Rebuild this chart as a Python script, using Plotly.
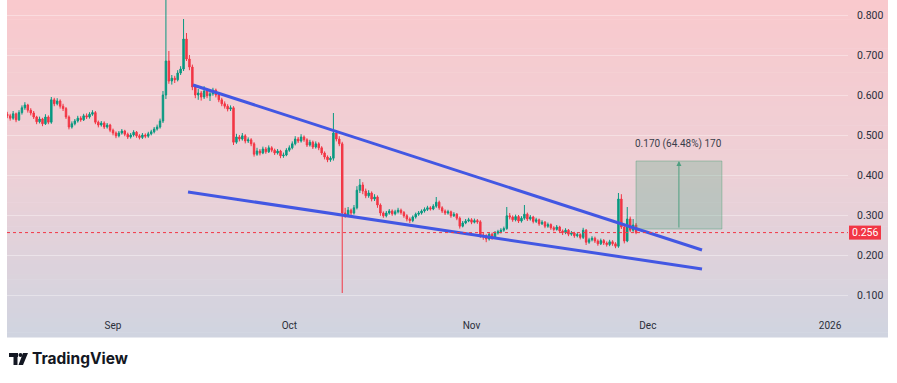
import plotly.graph_objects as go
import pandas as pd

# ---------------- data ----------------
start_time = "2025-08-14 00:00"
n_candles = 215
opens = [0.552, 0.548, 0.542, 0.553, 0.538, 0.556, 0.568, 0.575, 0.562, 0.555,
         0.545, 0.533, 0.540, 0.528, 0.545, 0.532, 0.588, 0.578, 0.585, 0.572,
         0.566, 0.545, 0.520, 0.528, 0.535, 0.542, 0.538, 0.548, 0.545, 0.552,
         0.556, 0.532, 0.525, 0.530, 0.520, 0.525, 0.512, 0.505, 0.498, 0.505,
         0.510, 0.502, 0.495, 0.500, 0.507, 0.498, 0.494, 0.500, 0.497, 0.503,
         0.508, 0.515, 0.520, 0.535, 0.600, 0.685, 0.635, 0.642, 0.638, 0.655,
         0.665, 0.740, 0.690, 0.670, 0.620, 0.600, 0.605, 0.595, 0.610, 0.598,
         0.603, 0.612, 0.600, 0.588, 0.578, 0.572, 0.565, 0.568, 0.482, 0.495,
         0.490, 0.498, 0.485, 0.488, 0.478, 0.452, 0.460, 0.455, 0.465, 0.458,
         0.468, 0.462, 0.455, 0.460, 0.448, 0.450, 0.462, 0.468, 0.478, 0.490,
         0.485, 0.495, 0.488, 0.475, 0.482, 0.470, 0.478, 0.468, 0.455, 0.445,
         0.438, 0.442, 0.505, 0.490, 0.478, 0.305, 0.300, 0.312, 0.305, 0.318,
         0.362, 0.375, 0.360, 0.348, 0.355, 0.340, 0.345, 0.325, 0.305, 0.298,
         0.305, 0.310, 0.303, 0.308, 0.312, 0.306, 0.298, 0.290, 0.286, 0.295,
         0.302, 0.305, 0.310, 0.314, 0.318, 0.315, 0.322, 0.332, 0.318, 0.310,
         0.305, 0.308, 0.298, 0.302, 0.292, 0.272, 0.280, 0.285, 0.288, 0.282,
         0.286, 0.283, 0.250, 0.248, 0.240, 0.252, 0.245, 0.255, 0.258, 0.262,
         0.266, 0.298, 0.295, 0.288, 0.296, 0.285, 0.292, 0.302, 0.290, 0.295,
         0.284, 0.288, 0.278, 0.282, 0.272, 0.276, 0.268, 0.264, 0.270, 0.260,
         0.256, 0.262, 0.252, 0.255, 0.248, 0.251, 0.244, 0.262, 0.232, 0.238,
         0.242, 0.235, 0.228, 0.236, 0.230, 0.226, 0.233, 0.228, 0.222, 0.340,
         0.270, 0.235, 0.290, 0.262, 0.275]
closes = [0.548, 0.542, 0.553, 0.538, 0.556, 0.568, 0.575, 0.562, 0.555, 0.545,
          0.533, 0.540, 0.528, 0.545, 0.532, 0.588, 0.578, 0.585, 0.572, 0.566,
          0.545, 0.520, 0.528, 0.535, 0.542, 0.538, 0.548, 0.545, 0.552, 0.556,
          0.532, 0.525, 0.530, 0.520, 0.525, 0.512, 0.505, 0.498, 0.505, 0.510,
          0.502, 0.495, 0.500, 0.507, 0.498, 0.494, 0.500, 0.497, 0.503, 0.508,
          0.515, 0.520, 0.535, 0.600, 0.685, 0.635, 0.642, 0.638, 0.655, 0.665,
          0.740, 0.690, 0.670, 0.620, 0.600, 0.605, 0.595, 0.610, 0.598, 0.603,
          0.612, 0.600, 0.588, 0.578, 0.572, 0.565, 0.568, 0.482, 0.495, 0.490,
          0.498, 0.485, 0.488, 0.478, 0.452, 0.460, 0.455, 0.465, 0.458, 0.468,
          0.462, 0.455, 0.460, 0.448, 0.450, 0.462, 0.468, 0.478, 0.490, 0.485,
          0.495, 0.488, 0.475, 0.482, 0.470, 0.478, 0.468, 0.455, 0.445, 0.438,
          0.442, 0.505, 0.490, 0.478, 0.305, 0.300, 0.312, 0.305, 0.318, 0.362,
          0.375, 0.360, 0.348, 0.355, 0.340, 0.345, 0.325, 0.305, 0.298, 0.305,
          0.310, 0.303, 0.308, 0.312, 0.306, 0.298, 0.290, 0.286, 0.295, 0.302,
          0.305, 0.310, 0.314, 0.318, 0.315, 0.322, 0.332, 0.318, 0.310, 0.305,
          0.308, 0.298, 0.302, 0.292, 0.272, 0.280, 0.285, 0.288, 0.282, 0.286,
          0.283, 0.250, 0.248, 0.240, 0.252, 0.245, 0.255, 0.258, 0.262, 0.266,
          0.298, 0.295, 0.288, 0.296, 0.285, 0.292, 0.302, 0.290, 0.295, 0.284,
          0.288, 0.278, 0.282, 0.272, 0.276, 0.268, 0.264, 0.270, 0.260, 0.256,
          0.262, 0.252, 0.255, 0.248, 0.251, 0.244, 0.262, 0.232, 0.238, 0.242,
          0.235, 0.228, 0.236, 0.230, 0.226, 0.233, 0.228, 0.222, 0.340, 0.270,
          0.235, 0.290, 0.262, 0.275, 0.256]
highs = [0.558, 0.553, 0.560, 0.556, 0.562, 0.574, 0.582, 0.578, 0.567, 0.560,
         0.548, 0.546, 0.543, 0.552, 0.549, 0.595, 0.593, 0.592, 0.589, 0.578,
         0.570, 0.549, 0.534, 0.540, 0.548, 0.547, 0.553, 0.554, 0.557, 0.562,
         0.560, 0.536, 0.535, 0.534, 0.530, 0.528, 0.516, 0.509, 0.510, 0.515,
         0.513, 0.506, 0.505, 0.512, 0.510, 0.502, 0.505, 0.504, 0.508, 0.513,
         0.520, 0.526, 0.541, 0.610, 0.860, 0.710, 0.650, 0.648, 0.662, 0.672,
         0.790, 0.755, 0.700, 0.676, 0.626, 0.615, 0.610, 0.622, 0.616, 0.610,
         0.618, 0.616, 0.604, 0.593, 0.584, 0.577, 0.574, 0.572, 0.503, 0.500,
         0.505, 0.502, 0.494, 0.492, 0.482, 0.468, 0.465, 0.471, 0.470, 0.474,
         0.472, 0.466, 0.465, 0.463, 0.456, 0.467, 0.474, 0.484, 0.497, 0.495,
         0.502, 0.499, 0.492, 0.488, 0.486, 0.484, 0.482, 0.472, 0.459, 0.449,
         0.447, 0.555, 0.512, 0.497, 0.483, 0.318, 0.320, 0.316, 0.325, 0.372,
         0.390, 0.382, 0.366, 0.362, 0.359, 0.352, 0.349, 0.329, 0.309, 0.310,
         0.315, 0.314, 0.313, 0.318, 0.316, 0.310, 0.302, 0.294, 0.299, 0.306,
         0.310, 0.314, 0.319, 0.323, 0.322, 0.327, 0.345, 0.336, 0.322, 0.314,
         0.313, 0.311, 0.307, 0.305, 0.296, 0.285, 0.290, 0.293, 0.292, 0.291,
         0.290, 0.287, 0.256, 0.252, 0.257, 0.256, 0.260, 0.263, 0.267, 0.271,
         0.320, 0.305, 0.299, 0.301, 0.300, 0.297, 0.325, 0.306, 0.300, 0.298,
         0.293, 0.291, 0.287, 0.285, 0.281, 0.279, 0.272, 0.275, 0.273, 0.264,
         0.267, 0.265, 0.260, 0.258, 0.256, 0.254, 0.268, 0.265, 0.243, 0.247,
         0.246, 0.239, 0.241, 0.240, 0.234, 0.238, 0.237, 0.232, 0.355, 0.352,
         0.276, 0.320, 0.296, 0.290, 0.280]
lows = [0.542, 0.536, 0.538, 0.532, 0.535, 0.551, 0.563, 0.556, 0.549, 0.540,
        0.527, 0.529, 0.522, 0.525, 0.527, 0.528, 0.572, 0.574, 0.566, 0.560,
        0.540, 0.514, 0.516, 0.524, 0.531, 0.533, 0.535, 0.540, 0.541, 0.548,
        0.527, 0.519, 0.521, 0.515, 0.516, 0.507, 0.499, 0.492, 0.494, 0.501,
        0.497, 0.490, 0.491, 0.496, 0.493, 0.489, 0.490, 0.492, 0.493, 0.499,
        0.504, 0.511, 0.516, 0.530, 0.590, 0.628, 0.626, 0.630, 0.634, 0.650,
        0.660, 0.685, 0.662, 0.612, 0.592, 0.588, 0.586, 0.590, 0.592, 0.585,
        0.598, 0.594, 0.582, 0.572, 0.566, 0.559, 0.560, 0.475, 0.478, 0.484,
        0.486, 0.479, 0.480, 0.472, 0.446, 0.448, 0.449, 0.452, 0.453, 0.455,
        0.457, 0.450, 0.451, 0.442, 0.443, 0.447, 0.458, 0.464, 0.474, 0.480,
        0.481, 0.483, 0.470, 0.471, 0.465, 0.466, 0.462, 0.450, 0.439, 0.432,
        0.433, 0.436, 0.484, 0.472, 0.105, 0.293, 0.296, 0.298, 0.301, 0.314,
        0.355, 0.352, 0.342, 0.343, 0.334, 0.335, 0.318, 0.298, 0.293, 0.294,
        0.301, 0.298, 0.299, 0.304, 0.301, 0.293, 0.284, 0.280, 0.282, 0.291,
        0.298, 0.301, 0.306, 0.310, 0.311, 0.312, 0.318, 0.313, 0.305, 0.300,
        0.301, 0.293, 0.295, 0.287, 0.266, 0.269, 0.277, 0.282, 0.277, 0.279,
        0.278, 0.243, 0.238, 0.232, 0.236, 0.238, 0.242, 0.251, 0.254, 0.258,
        0.263, 0.289, 0.283, 0.284, 0.280, 0.281, 0.288, 0.285, 0.286, 0.279,
        0.280, 0.273, 0.275, 0.267, 0.268, 0.263, 0.259, 0.261, 0.255, 0.250,
        0.252, 0.247, 0.248, 0.243, 0.244, 0.239, 0.240, 0.225, 0.228, 0.234,
        0.230, 0.223, 0.225, 0.225, 0.221, 0.222, 0.223, 0.217, 0.218, 0.265,
        0.229, 0.232, 0.257, 0.258, 0.252]

last_price = 0.256
price_ticks = [0.1, 0.2, 0.3, 0.4, 0.5, 0.6, 0.7, 0.8]
price_tick_labels = ["0.100", "0.200", "0.300", "0.400", "0.500", "0.600", "0.700", "0.800"]
time_ticks = ["2025-09-01", "2025-10-01", "2025-11-01", "2025-12-01", "2026-01-01"]
time_tick_labels = ["Sep", "Oct", "Nov", "Dec", "2026"]

# falling wedge trend lines (start, end)
upper_line_x = ["2025-09-14 14:40", "2025-12-10 05:20"]
upper_line_y = [0.625, 0.2125]
lower_line_x = ["2025-09-13 18:15", "2025-12-10 05:20"]
lower_line_y = [0.3575, 0.165]

# price range measurement
measure_x = ["2025-11-29 00:00", "2025-12-13 14:30"]
measure_y = [0.265, 0.435]
measure_mid_x = "2025-12-06 07:00"
measure_label = "0.170 (64.48%) 170"

# ---------------- figure ----------------
times = pd.date_range(start_time, periods=n_candles, freq="12h")

fig = go.Figure()
fig.add_trace(go.Candlestick(
    x=times, open=opens, high=highs, low=lows, close=closes,
    increasing=dict(line=dict(color="#089981", width=1), fillcolor="#089981"),
    decreasing=dict(line=dict(color="#f23645", width=1), fillcolor="#f23645"),
    whiskerwidth=0, showlegend=False, hoverinfo="skip",
))

W, H = 897, 383
L, R, T, B = 7, 848, 0, 318
pw, ph = R - L, B - T
Y0, Y1 = 0.0425, 0.8375


def px_x(px):
    return (px - L) / pw


def px_y(py):
    return (B - py) / ph


def val_paper(v):
    return (v - Y0) / (Y1 - Y0)


shapes = []
# gradient background (pink top -> grey-blue bottom)
top_c = (249, 201, 205)
mid_c = (238, 208, 214)
bot_c = (208, 212, 224)
N = 70
g_top, g_bot = 0, 337
for k in range(N):
    t0 = g_top + (g_bot - g_top) * k / N
    t1 = g_top + (g_bot - g_top) * (k + 1) / N
    f = (k + 0.5) / N
    if f < 0.5:
        a, b, ff = top_c, mid_c, f / 0.5
    else:
        a, b, ff = mid_c, bot_c, (f - 0.5) / 0.5
    col = tuple(round(a[j] + (b[j] - a[j]) * ff) for j in range(3))
    shapes.append(dict(type="rect", xref="paper", yref="paper",
                       x0=px_x(7), x1=px_x(888), y0=px_y(t1 + 0.6), y1=px_y(t0),
                       fillcolor="rgb(%d,%d,%d)" % col, line=dict(width=0),
                       layer="below"))

# measurement box
shapes.append(dict(type="rect", xref="x", yref="y",
                   x0=measure_x[0], x1=measure_x[1], y0=measure_y[0], y1=measure_y[1],
                   fillcolor="rgba(60,160,120,0.25)",
                   line=dict(color="rgba(80,160,120,0.45)", width=1)))

# wedge lines
shapes.append(dict(type="line", xref="x", yref="y",
                   x0=upper_line_x[0], x1=upper_line_x[1], y0=upper_line_y[0], y1=upper_line_y[1],
                   line=dict(color="#4257e3", width=3)))
shapes.append(dict(type="line", xref="x", yref="y",
                   x0=lower_line_x[0], x1=lower_line_x[1], y0=lower_line_y[0], y1=lower_line_y[1],
                   line=dict(color="#4257e3", width=3)))

# last price dotted line
shapes.append(dict(type="line", xref="paper", yref="y", x0=0, x1=1,
                   y0=last_price, y1=last_price,
                   line=dict(color="#f23645", width=1, dash="dot")))
# last price label box (paper refs so it is not clipped)
shapes.append(dict(type="rect", xref="paper", yref="paper",
                   x0=px_x(849), x1=px_x(881),
                   y0=val_paper(last_price) - 7 / ph, y1=val_paper(last_price) + 7 / ph,
                   fillcolor="#f23645", line=dict(width=0)))

# TradingView logo
shapes.append(dict(type="rect", xref="paper", yref="paper",
                   x0=px_x(9), x1=px_x(18), y0=px_y(357), y1=px_y(353),
                   fillcolor="#131722", line=dict(width=0)))
shapes.append(dict(type="rect", xref="paper", yref="paper",
                   x0=px_x(13.5), x1=px_x(17.5), y0=px_y(365), y1=px_y(353),
                   fillcolor="#131722", line=dict(width=0)))
shapes.append(dict(type="circle", xref="paper", yref="paper",
                   x0=px_x(18.5), x1=px_x(22.5), y0=px_y(357), y1=px_y(353),
                   fillcolor="#131722", line=dict(width=0)))
shapes.append(dict(type="path", xref="paper", yref="paper",
                   path="M %f,%f L %f,%f L %f,%f L %f,%f Z" % (
                       px_x(23), px_y(353), px_x(28), px_y(353),
                       px_x(23), px_y(365), px_x(18.5), px_y(365)),
                   fillcolor="#131722", line=dict(width=0)))

annotations = [
    dict(x=px_x(865), y=val_paper(last_price), xref="paper", yref="paper", text="0.256",
         xanchor="center", yanchor="middle",
         showarrow=False, font=dict(color="white", size=10.5, family="Roboto")),
    dict(x=measure_mid_x, y=measure_y[1], xref="x", yref="y",
         ax=measure_mid_x, ay=measure_y[0], axref="x", ayref="y",
         showarrow=True, arrowhead=2, arrowsize=1, arrowwidth=1,
         arrowcolor="#4f9f80", text=""),
    dict(x=measure_mid_x, y=0.4775, xref="x", yref="y", text=measure_label,
         xanchor="center", yanchor="middle",
         showarrow=False, font=dict(color="#3a3e4a", size=10, family="Roboto")),
    dict(x=px_x(30), y=px_y(358), xref="paper", yref="paper", text="<b>TradingView</b>",
         xanchor="left", yanchor="middle", showarrow=False,
         font=dict(color="#131722", size=15.5, family="Inter")),
]

fig.update_layout(
    width=W, height=H,
    margin=dict(l=L, r=W - R, t=T, b=H - B, pad=0),
    paper_bgcolor="white", plot_bgcolor="rgba(0,0,0,0)",
    shapes=shapes, annotations=annotations,
    showlegend=False,
    font=dict(family="Roboto", color="#2a2e39"),
    xaxis=dict(type="date", range=["2025-08-13 23:00", "2026-01-04 01:30"],
               rangeslider=dict(visible=False), showgrid=False, zeroline=False,
               showline=False, tickvals=time_ticks, ticktext=time_tick_labels,
               tickfont=dict(size=10, color="#2a2e39"), ticks="", fixedrange=True),
    yaxis=dict(side="right", range=[Y0, Y1], tickvals=price_ticks,
               ticktext=price_tick_labels, showgrid=True,
               gridcolor="rgba(255,255,255,0.35)", gridwidth=1, zeroline=False,
               showline=False, ticks="", ticklabelstandoff=8,
               tickfont=dict(size=10.5, color="#2a2e39")),
)

fig.write_html("out.html", config={"displayModeBar": False},
               post_script="document.body.style.margin='0px';document.body.style.overflow='hidden';")
